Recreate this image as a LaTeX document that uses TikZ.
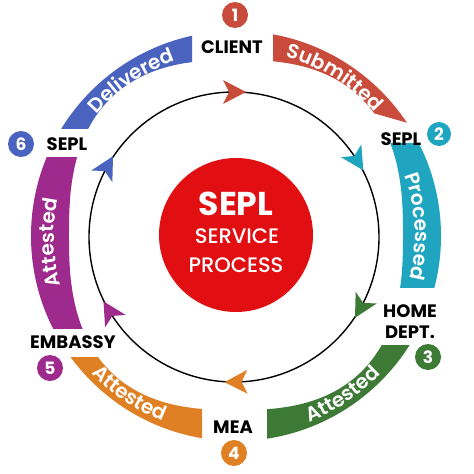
\documentclass[tikz,border=0pt]{standalone}
\usepackage{fontspec}
\setmainfont{Poppins}
\IfFontExistsTF{Poppins Medium}{\newfontfamily\popmed{Poppins Medium}}{\newcommand\popmed{\mdseries}}
\IfFontExistsTF{Poppins SemiBold}{\newfontfamily\popsemi{Poppins SemiBold}}{\newcommand\popsemi{\bfseries}}
\usetikzlibrary{decorations.text}
\definecolor{cred}{HTML}{C84B3C}
\definecolor{cteal}{HTML}{1FA5BF}
\definecolor{cgreen}{HTML}{3C7A36}
\definecolor{corange}{HTML}{E08024}
\definecolor{cpurple}{HTML}{9D2A8C}
\definecolor{cblue}{HTML}{4A63BF}
\definecolor{ccenter}{HTML}{E10E12}
\newcommand\bandfont{\fontsize{20}{20}\selectfont\popsemi}
\newcommand\ringpath{(236,-236) circle[radius=205pt] plot[domain=0.5:360.5,samples=361,variable=\t] ({236+167*sign(cos(\t))*pow(abs(cos(\t)),0.769)},{-235+175*sign(sin(\t))*pow(abs(sin(\t)),0.769)}) -- cycle}
\begin{document}
\begin{tikzpicture}[x=1pt,y=1pt,
  lbl/.style={font=\fontsize{18}{18}\selectfont\bfseries, text=black, inner sep=0pt, anchor=base},
  badge/.style={circle, minimum size=26pt, inner sep=0pt, text=white, font=\fontsize{17}{17}\selectfont\bfseries},
  bandtext/.style={decorate, decoration={text along path, text align=center, text color=white, text={|\bandfont|#1}}},
  arrowhd/.pic={\fill (12,0) -- (-11,12) -- (-5,0) -- (-11,-12) -- cycle;}
  ]
\fill[white] (0,0) rectangle (474,-474);
\useasboundingbox (0,0) rectangle (474,-474);
\coordinate (C) at (236,-236);
\coordinate (O) at (234,-237);
% ring segments
\begin{scope}
 \clip (0,0) rectangle (192,-128);
 \fill[cblue, even odd rule] \ringpath;
\end{scope}
\begin{scope}
 \clip (273,0) -- (474,0) -- (474,-141.9) -- (273,-84.4) -- cycle;
 \fill[cred, even odd rule] \ringpath;
\end{scope}
\begin{scope}
 \clip (300,-143) rectangle (474,-287);
 \fill[cteal, even odd rule] \ringpath;
\end{scope}
\begin{scope}
 \clip (267,-345) rectangle (474,-474);
 \fill[cgreen, even odd rule] \ringpath;
\end{scope}
\begin{scope}
 \clip (0,-357) rectangle (202,-474);
 \fill[corange, even odd rule] \ringpath;
\end{scope}
\begin{scope}
 \clip (0,-157) rectangle (150,-328);
 \fill[cpurple, even odd rule] \ringpath;
\end{scope}
% band texts
\path[bandtext=Delivered] ([shift={(154:185)}]C) arc[start angle=154, end angle=94, radius=185];
\path[bandtext=Submitted] ([shift={(88:186)}]C) arc[start angle=88, end angle=28, radius=186];
\path[bandtext=Processed] ([shift={(33:179)}]C) arc[start angle=33, end angle=-27, radius=179];
\path[bandtext=Attested] ([shift={(212:182)}]C) arc[start angle=212, end angle=152, radius=182];
\path[bandtext=Attested] ([shift={(-86:200)}]C) arc[start angle=-86, end angle=-26, radius=200];
\path[bandtext=Attested] ([shift={(206:199)}]C) arc[start angle=206, end angle=266, radius=199];
% inner circle and arrows
\draw[line width=1.4pt] (O) circle[radius=145pt];
\pic[cred, rotate=0] at ([shift={(90:145)}]O) {arrowhd};
\pic[cteal, rotate=-58] at ([shift={(32:145)}]O) {arrowhd};
\pic[cgreen, rotate=-119] at ([shift={(-29:145)}]O) {arrowhd};
\pic[corange, rotate=-179] at ([shift={(-89:145)}]O) {arrowhd};
\pic[cpurple, rotate=121] at ([shift={(211:145)}]O) {arrowhd};
\pic[cblue, rotate=61] at ([shift={(151:145)}]O) {arrowhd};
% hub
\node[circle, fill=ccenter, minimum size=154pt, inner sep=0pt] (hub) at (236,-235) {};
\node[font=\fontsize{33}{33}\selectfont\bfseries, text=white, anchor=base, inner sep=0pt] (t1) at (236,-215) {SEPL};
\node[font=\fontsize{21}{21}\selectfont\popmed, text=white, anchor=base, inner sep=0pt] (t2) at (237,-243) {SERVICE};
\node[font=\fontsize{21}{21}\selectfont\popmed, text=white, anchor=base, inner sep=0pt] (t3) at (236,-272) {PROCESS};
% badges
\node[badge, fill=cred] (n1) at (235,-15) {1};
\node[badge, fill=cteal, minimum size=24pt] (n2) at (439,-134) {2};
\node[badge, fill=cgreen] (n3) at (428,-357) {3};
\node[badge, fill=corange] (n4) at (234,-453) {4};
\node[badge, fill=cpurple] (n5) at (50,-368) {5};
\node[badge, fill=cblue] (n6) at (21,-144) {6};
% labels
\node[lbl] (client) at (232,-53) {CLIENT};
\node[lbl] (sepl2) at (401,-145) {SEPL};
\node[lbl] (home) at (410,-317) {HOME};
\node[lbl] (dept) at (410,-338) {DEPT.};
\node[lbl] (mea) at (233,-433) {MEA};
\node[lbl] (emb) at (73,-348) {EMBASSY};
\node[lbl] (sepl6) at (67,-150) {SEPL};
\end{tikzpicture}
\end{document}
